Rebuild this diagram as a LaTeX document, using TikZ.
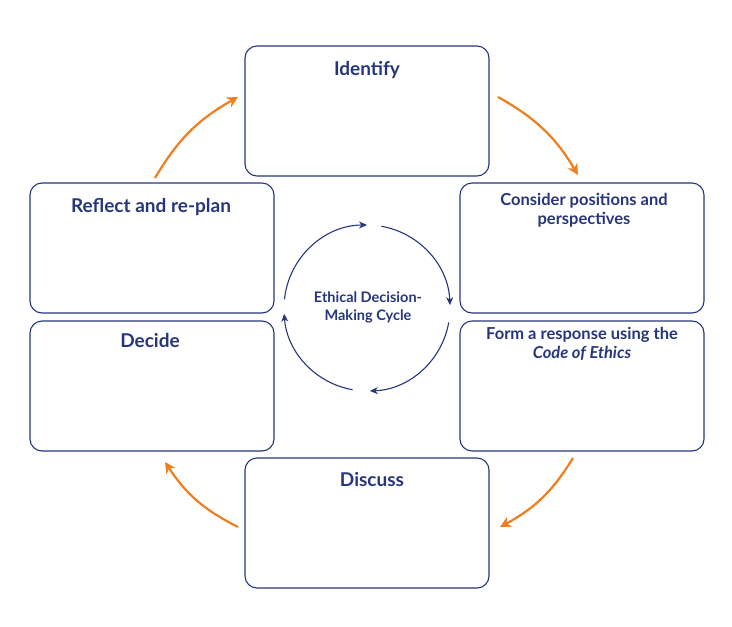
\documentclass[tikz,border=0pt]{standalone}
\usepackage{fontspec}
\setmainfont{Lato}
\usetikzlibrary{arrows.meta}
\definecolor{navy}{HTML}{26367A}
\definecolor{org}{HTML}{F07D1E}
\begin{document}
\begin{tikzpicture}[x=1pt,y=-1pt,
 box/.style={draw=navy,line width=1.1pt,rounded corners=12pt,minimum width=244pt,minimum height=130pt,inner sep=0pt},
 ttl/.style={text=navy,font=\bfseries\fontsize{19}{22}\selectfont,align=center},
 sttl/.style={text=navy,font=\bfseries\fontsize{16.5}{19}\selectfont,align=center},
 oarr/.style={draw=org,line width=2.2pt,-{Stealth[length=11pt,width=11pt]}},
 carr/.style={draw=navy,line width=1.1pt,-{Stealth[length=8pt,width=7pt]}}]
\useasboundingbox (0,0) rectangle (732,627);
\node[box] (id) at (367,111) {};
\node[box] (co) at (582,248) {};
\node[box] (fo) at (582,386) {};
\node[box] (di) at (367,523) {};
\node[box] (de) at (152,386) {};
\node[box] (re) at (152,248) {};
\node[ttl] (tid) at (367,70) {Identify};
\node[sttl] (tco) at (584,210) {Consider positions and\\perspectives};
\node[sttl] (tfo) at (582,344) {Form a response using the\\\itshape Code of Ethics};
\node[ttl] (tdi) at (372,480) {Discuss};
\node[ttl] (tde) at (150,341) {Decide};
\node[ttl] (tre) at (151,207) {Reflect and re-plan};
\node[text=navy,font=\bfseries\fontsize{14.5}{18}\selectfont,align=center] (cc) at (368,307) {Ethical Decision-\\Making Cycle};
\coordinate (c) at (367,308);
\begin{scope}[shift={(c)},yscale=-1]
\draw[carr] (174:83) arc[start angle=174,end angle=90,radius=83];
\draw[carr] (80:83) arc[start angle=80,end angle=2,radius=83];
\draw[carr] (-10:83) arc[start angle=-10,end angle=-88,radius=83];
\draw[carr] (-100:83) arc[start angle=-100,end angle=-176,radius=83];
\end{scope}
\coordinate (a1) at (498,97); \coordinate (b1) at (578,175);
\coordinate (a2) at (573,458); \coordinate (b2) at (500,527);
\coordinate (a3) at (238,527); \coordinate (b3) at (165,462);
\coordinate (a4) at (155,178); \coordinate (b4) at (238,97);
\draw[oarr] (a1) to[bend left=15] (b1);
\draw[oarr] (a2) to[bend left=15] (b2);
\draw[oarr] (a3) to[bend left=15] (b3);
\draw[oarr] (a4) to[bend left=15] (b4);
\end{tikzpicture}
\end{document}
